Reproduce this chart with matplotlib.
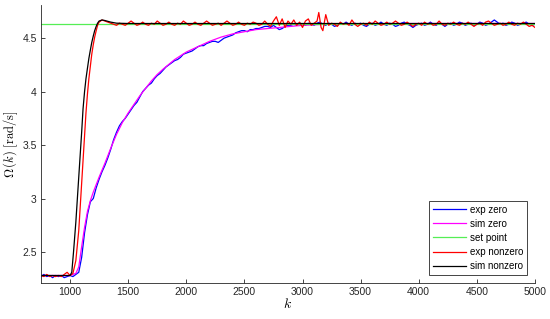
import matplotlib
matplotlib.use("Agg")
import matplotlib.pyplot as plt

plt.rcParams['font.family'] = ['Liberation Sans', 'DejaVu Sans']
plt.rcParams['mathtext.fontset'] = 'cm'

# ---------------- data ----------------
setpoint = 4.637
k_range = [750, 5000]

# sim nonzero (black)
k_sim_nz = [750, 1000, 1015, 1030, 1050, 1075, 1100, 1112, 1125, 1137, 1150, 1162, 1175, 1187,
            1200, 1212, 1225, 1237, 1250, 1275, 1300, 1350, 1400, 1500, 5000]
v_sim_nz = [2.28, 2.28, 2.31, 2.50, 2.78, 3.20, 3.62, 3.84, 4.00, 4.12, 4.22, 4.31, 4.39, 4.46,
            4.52, 4.57, 4.61, 4.64, 4.66, 4.67, 4.665, 4.65, 4.64, 4.637, 4.637]

# exp nonzero (red)
k_exp_nz = [750, 775, 800, 825, 850, 875, 900, 925, 950, 975, 1000, 1025, 1050, 1075, 1100, 1125,
            1137, 1150, 1162, 1175, 1187, 1200, 1212, 1225, 1237, 1250, 1275, 1300, 1325, 1350,
            1375, 1400, 1425, 1450, 1475,
            1500, 1525, 1550, 1575, 1600, 1625, 1650, 1675, 1700, 1725, 1750, 1775, 1800, 1825,
            1850, 1875, 1900, 1925, 1950, 1975, 2000, 2025, 2050, 2075, 2100, 2125, 2150, 2175,
            2200, 2225, 2250, 2275, 2300, 2325, 2350, 2375, 2400, 2425, 2450, 2475, 2500, 2525,
            2550, 2575, 2600, 2625, 2650, 2675, 2700, 2725, 2750, 2775, 2800, 2825, 2850, 2875,
            2900, 2925, 2950, 2975, 3000, 3025, 3050, 3075, 3100, 3125, 3140, 3160, 3175, 3200,
            3225, 3250, 3275, 3300, 3325, 3350, 3375, 3400, 3425, 3450, 3475, 3500, 3525, 3550,
            3575, 3600, 3625, 3650, 3675, 3700, 3725, 3750, 3775, 3800, 3825, 3850, 3875, 3900,
            3925, 3950, 3975, 4000, 4025, 4050, 4075, 4100, 4125, 4150, 4175, 4200, 4225, 4250,
            4275, 4300, 4325, 4350, 4375, 4400, 4425, 4450, 4475, 4500, 4525, 4550, 4575, 4600,
            4625, 4650, 4675, 4700, 4725, 4750, 4775, 4800, 4825, 4850, 4875, 4900, 4925, 4950,
            4975, 5000]
v_exp_nz = [2.28, 2.27, 2.29, 2.27, 2.28, 2.27, 2.28, 2.27, 2.29, 2.31, 2.28, 2.30, 2.42, 2.70,
            3.15, 3.60, 3.80, 3.98, 4.12, 4.24, 4.35, 4.44, 4.51, 4.57, 4.62, 4.65, 4.67, 4.66,
            4.65, 4.64, 4.63, 4.62, 4.64, 4.63, 4.62,
            4.64, 4.66, 4.64, 4.62, 4.63, 4.65, 4.63, 4.62, 4.64, 4.63, 4.66, 4.64,
            4.62, 4.63, 4.65, 4.63, 4.62, 4.64, 4.63, 4.66, 4.64, 4.62, 4.63, 4.65, 4.63, 4.62,
            4.64, 4.66, 4.64, 4.62, 4.63, 4.64, 4.62, 4.64, 4.66, 4.64, 4.62, 4.63, 4.65, 4.63,
            4.62, 4.64, 4.63, 4.65, 4.64, 4.62, 4.63, 4.66, 4.63, 4.61, 4.66, 4.70, 4.62, 4.68,
            4.60, 4.66, 4.63, 4.67, 4.62, 4.65, 4.60, 4.66, 4.68, 4.62, 4.64, 4.66, 4.74, 4.60,
            4.57, 4.72, 4.62, 4.64, 4.63, 4.61, 4.65, 4.63, 4.64, 4.62, 4.67, 4.63, 4.61, 4.63,
            4.64, 4.62, 4.65, 4.63, 4.66, 4.64, 4.62, 4.63, 4.65, 4.63, 4.64, 4.66, 4.64, 4.62,
            4.63, 4.65, 4.63, 4.61, 4.63, 4.64, 4.62, 4.65, 4.63, 4.64, 4.62, 4.63, 4.66, 4.63,
            4.62, 4.64, 4.63, 4.65, 4.63, 4.62, 4.64, 4.63, 4.65, 4.63, 4.61, 4.63, 4.64, 4.62,
            4.65, 4.66, 4.64, 4.62, 4.63, 4.64, 4.62, 4.63, 4.65, 4.63, 4.62, 4.64, 4.63, 4.65,
            4.63, 4.61, 4.62, 4.60]

# sim zero (magenta)
k_sim_z = [750, 1000, 1050, 1075, 1100, 1125, 1150, 1175, 1200, 1250, 1300, 1350, 1400, 1450,
           1500, 1550, 1600, 1650, 1700, 1750, 1800, 1900, 2000, 2100, 2200, 2300, 2400, 2500,
           2600, 2700, 2800, 2900, 3000, 3200, 3500, 4000, 5000]
v_sim_z = [2.28, 2.28, 2.30, 2.36, 2.55, 2.73, 2.88, 2.98, 3.06, 3.20, 3.33, 3.47, 3.60, 3.71,
           3.80, 3.88, 3.96, 4.03, 4.10, 4.16, 4.21, 4.30, 4.37, 4.42, 4.47, 4.51, 4.54, 4.56,
           4.58, 4.59, 4.60, 4.61, 4.62, 4.63, 4.635, 4.637, 4.637]

# exp zero (blue)
k_exp_z = list(range(750, 5001, 25))
v_exp_z = [2.27, 2.29, 2.27, 2.28, 2.26, 2.28, 2.27, 2.28, 2.26, 2.27, 2.28, 2.27, 2.29, 2.31,
           2.45, 2.68, 2.85, 2.97, 3.00, 3.10, 3.18, 3.25, 3.31, 3.38, 3.46, 3.55, 3.62, 3.68,
           3.72, 3.75, 3.79, 3.83, 3.87, 3.90, 3.95, 4.00, 4.03, 4.06, 4.08, 4.12, 4.15, 4.17,
           4.20, 4.23, 4.25, 4.27, 4.29, 4.30, 4.32, 4.35, 4.36, 4.37, 4.38, 4.40, 4.42, 4.43,
           4.43, 4.45, 4.46, 4.47, 4.47, 4.46, 4.48, 4.50, 4.51, 4.52, 4.53, 4.55, 4.56, 4.57,
           4.57, 4.56, 4.58, 4.58, 4.59, 4.59, 4.60, 4.61, 4.61, 4.60, 4.62, 4.60, 4.58, 4.59,
           4.61, 4.62, 4.62, 4.63, 4.62, 4.64, 4.63, 4.62, 4.64, 4.63, 4.62, 4.64, 4.65, 4.63,
           4.62, 4.64, 4.63, 4.61, 4.62, 4.64, 4.63, 4.65, 4.63, 4.62, 4.64, 4.63, 4.64, 4.62,
           4.61, 4.63, 4.64, 4.62, 4.63, 4.65, 4.63, 4.62, 4.64, 4.63, 4.61, 4.62, 4.64, 4.65,
           4.63, 4.62, 4.60, 4.62, 4.63, 4.64, 4.62, 4.63, 4.65, 4.63, 4.62, 4.64, 4.63, 4.61,
           4.63, 4.64, 4.62, 4.63, 4.65, 4.64, 4.62, 4.63, 4.64, 4.62, 4.63, 4.65, 4.64, 4.62,
           4.63, 4.65, 4.67, 4.65, 4.63, 4.64, 4.62, 4.63, 4.65, 4.64, 4.62, 4.63, 4.64, 4.65,
           4.63, 4.62, 4.63]

x_ticks = [1000, 1500, 2000, 2500, 3000, 3500, 4000, 4500, 5000]
y_ticks = [2.5, 3, 3.5, 4, 4.5]
y_tick_labels = ['2.5', '3', '3.5', '4', '4.5']

# ---------------- plot ----------------
fig = plt.figure(figsize=(5.5, 3.19), dpi=100)
ax = fig.add_axes([0.0745, 0.1129, 0.8982, 0.8714])

lw = 0.9
ax.plot(k_exp_z, v_exp_z, color='#0000ff', lw=lw, label='exp zero')
ax.plot(k_sim_z, v_sim_z, color='#ff00ff', lw=lw, label='sim zero')
ax.plot(k_range, [setpoint, setpoint], color='#55ee55', lw=lw, label='set point')
ax.plot(k_exp_nz, v_exp_nz, color='#ff0000', lw=lw, label='exp nonzero')
ax.plot(k_sim_nz, v_sim_nz, color='#000000', lw=lw, label='sim nonzero')

ax.set_xlim(750, 5000)
ax.set_ylim(2.21, 4.81)
ax.set_xticks(x_ticks)
ax.set_xticklabels([str(t) for t in x_ticks])
ax.set_yticks(y_ticks)
ax.set_yticklabels(y_tick_labels)

for s in ['top', 'right']:
    ax.spines[s].set_visible(False)
for s in ['left', 'bottom']:
    ax.spines[s].set_color('#262626')
    ax.spines[s].set_linewidth(0.6)
ax.tick_params(direction='in', length=3, width=0.6, colors='#262626', labelsize=7.5, pad=3)

ax.set_xlabel(r'$k$', fontsize=10, labelpad=0)
ax.set_ylabel(r'$\Omega\,(k)\ [\mathrm{rad/s}]$', fontsize=9, labelpad=2)

leg = ax.legend(loc='lower right', bbox_to_anchor=(0.984, 0.029), fontsize=7,
                frameon=True, fancybox=False, framealpha=1, edgecolor='#262626',
                handlelength=3.4, handletextpad=0.35, labelspacing=0.42,
                borderpad=0.4, borderaxespad=0)
leg.get_frame().set_linewidth(0.6)

fig.savefig('out.png', dpi=100)
